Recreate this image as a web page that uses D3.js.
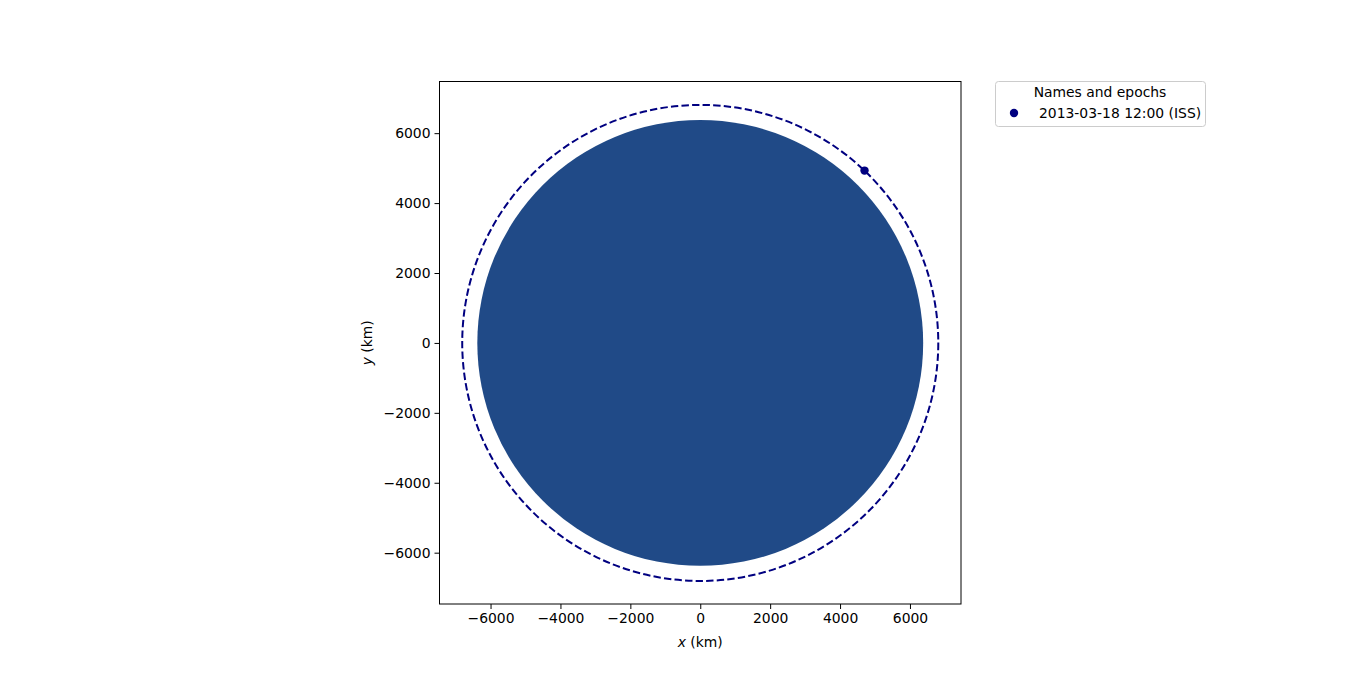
<!DOCTYPE html>
<html><head><meta charset="utf-8">
<script src="https://cdn.jsdelivr.net/npm/d3@7"></script>
<style>body{margin:0;background:#fff}svg{display:block}text{font-family:"DejaVu Sans",sans-serif}</style>
</head><body>
<svg id="c" width="1366" height="679"></svg>
<script>
const xTicks = [-6000,-4000,-2000,0,2000,4000,6000];
const yTicks = [-6000,-4000,-2000,0,2000,4000,6000];
const attractorRadius = [6378];
const orbitRadius = [6810];
const orbitPoint = [{x:4700, y:4930}];
const legendLabels = ["2013-03-18 12:00 (ISS)"];
const legendTitle = "Names and epochs";

const svg = d3.select("#c");
const L=439.5, R=961, T=81.5, B=604;
const x = d3.scaleLinear().domain([-7460,7460]).range([L,R]);
const y = d3.scaleLinear().domain([-7468,7478]).range([B,T]);
const k = (R-L)/14920;

const g = svg.append("g");
g.append("clipPath").attr("id","clp").append("rect").attr("x",L).attr("y",T).attr("width",R-L).attr("height",B-T);
const plot = g.append("g").attr("clip-path","url(#clp)");
plot.selectAll("circle.att").data(attractorRadius).join("circle").attr("class","att")
  .attr("cx",x(0)).attr("cy",y(0)).attr("r",d=>d*k).attr("fill","#204a87");
plot.selectAll("circle.orb").data(orbitRadius).join("circle").attr("class","orb")
  .attr("cx",x(0)).attr("cy",y(0)).attr("r",d=>d*k).attr("fill","none")
  .attr("stroke","#000080").attr("stroke-width",2).attr("stroke-dasharray","7.4,3.2");
plot.selectAll("circle.pt").data(orbitPoint).join("circle").attr("class","pt")
  .attr("cx",d=>x(d.x)).attr("cy",d=>y(d.y)).attr("r",4.2).attr("fill","#000080");

g.append("rect").attr("x",L).attr("y",T).attr("width",R-L).attr("height",B-T)
  .attr("fill","none").attr("stroke","#000").attr("stroke-width",1);

const xa = g.append("g").attr("transform",`translate(0,${B})`)
  .call(d3.axisBottom(x).tickValues(xTicks).tickSize(5).tickPadding(4).tickFormat(d=>d3.format("d")(d).replace("-","\u2212")));
const ya = g.append("g").attr("transform",`translate(${L},0)`)
  .call(d3.axisLeft(y).tickValues(yTicks).tickSize(5).tickPadding(4).tickFormat(d=>d3.format("d")(d).replace("-","\u2212")));
[xa,ya].forEach(a=>{a.select(".domain").remove();a.selectAll("text").attr("font-size","13.9px").attr("font-family","DejaVu Sans").attr("fill","#000");a.selectAll("line").attr("stroke","#000");});

const xl = g.append("text").attr("x",(L+R)/2).attr("y",647).attr("text-anchor","middle").attr("font-size","13.9px");
xl.append("tspan").attr("font-style","italic").text("x");
xl.append("tspan").text(" (km)");
const yl = g.append("text").attr("transform",`translate(372,${(T+B)/2}) rotate(-90)`).attr("text-anchor","middle").attr("font-size","13.9px");
yl.append("tspan").attr("font-style","italic").text("y");
yl.append("tspan").text(" (km)");

const lg = svg.append("g");
lg.append("rect").attr("x",995.5).attr("y",81.5).attr("width",210).attr("height",45).attr("rx",3)
  .attr("fill","#fff").attr("fill-opacity",0.8).attr("stroke","#cccccc");
lg.append("text").attr("x",1100).attr("y",97).attr("text-anchor","middle").attr("font-size","13.9px").text(legendTitle);
lg.selectAll("circle").data(legendLabels).join("circle").attr("cx",1014).attr("cy",(d,i)=>113+i*20).attr("r",4.2).attr("fill","#000080");
lg.selectAll("text.l").data(legendLabels).join("text").attr("class","l").attr("x",1039).attr("y",(d,i)=>118+i*20).attr("font-size","13.9px").text(d=>d);
</script>
</body></html>
